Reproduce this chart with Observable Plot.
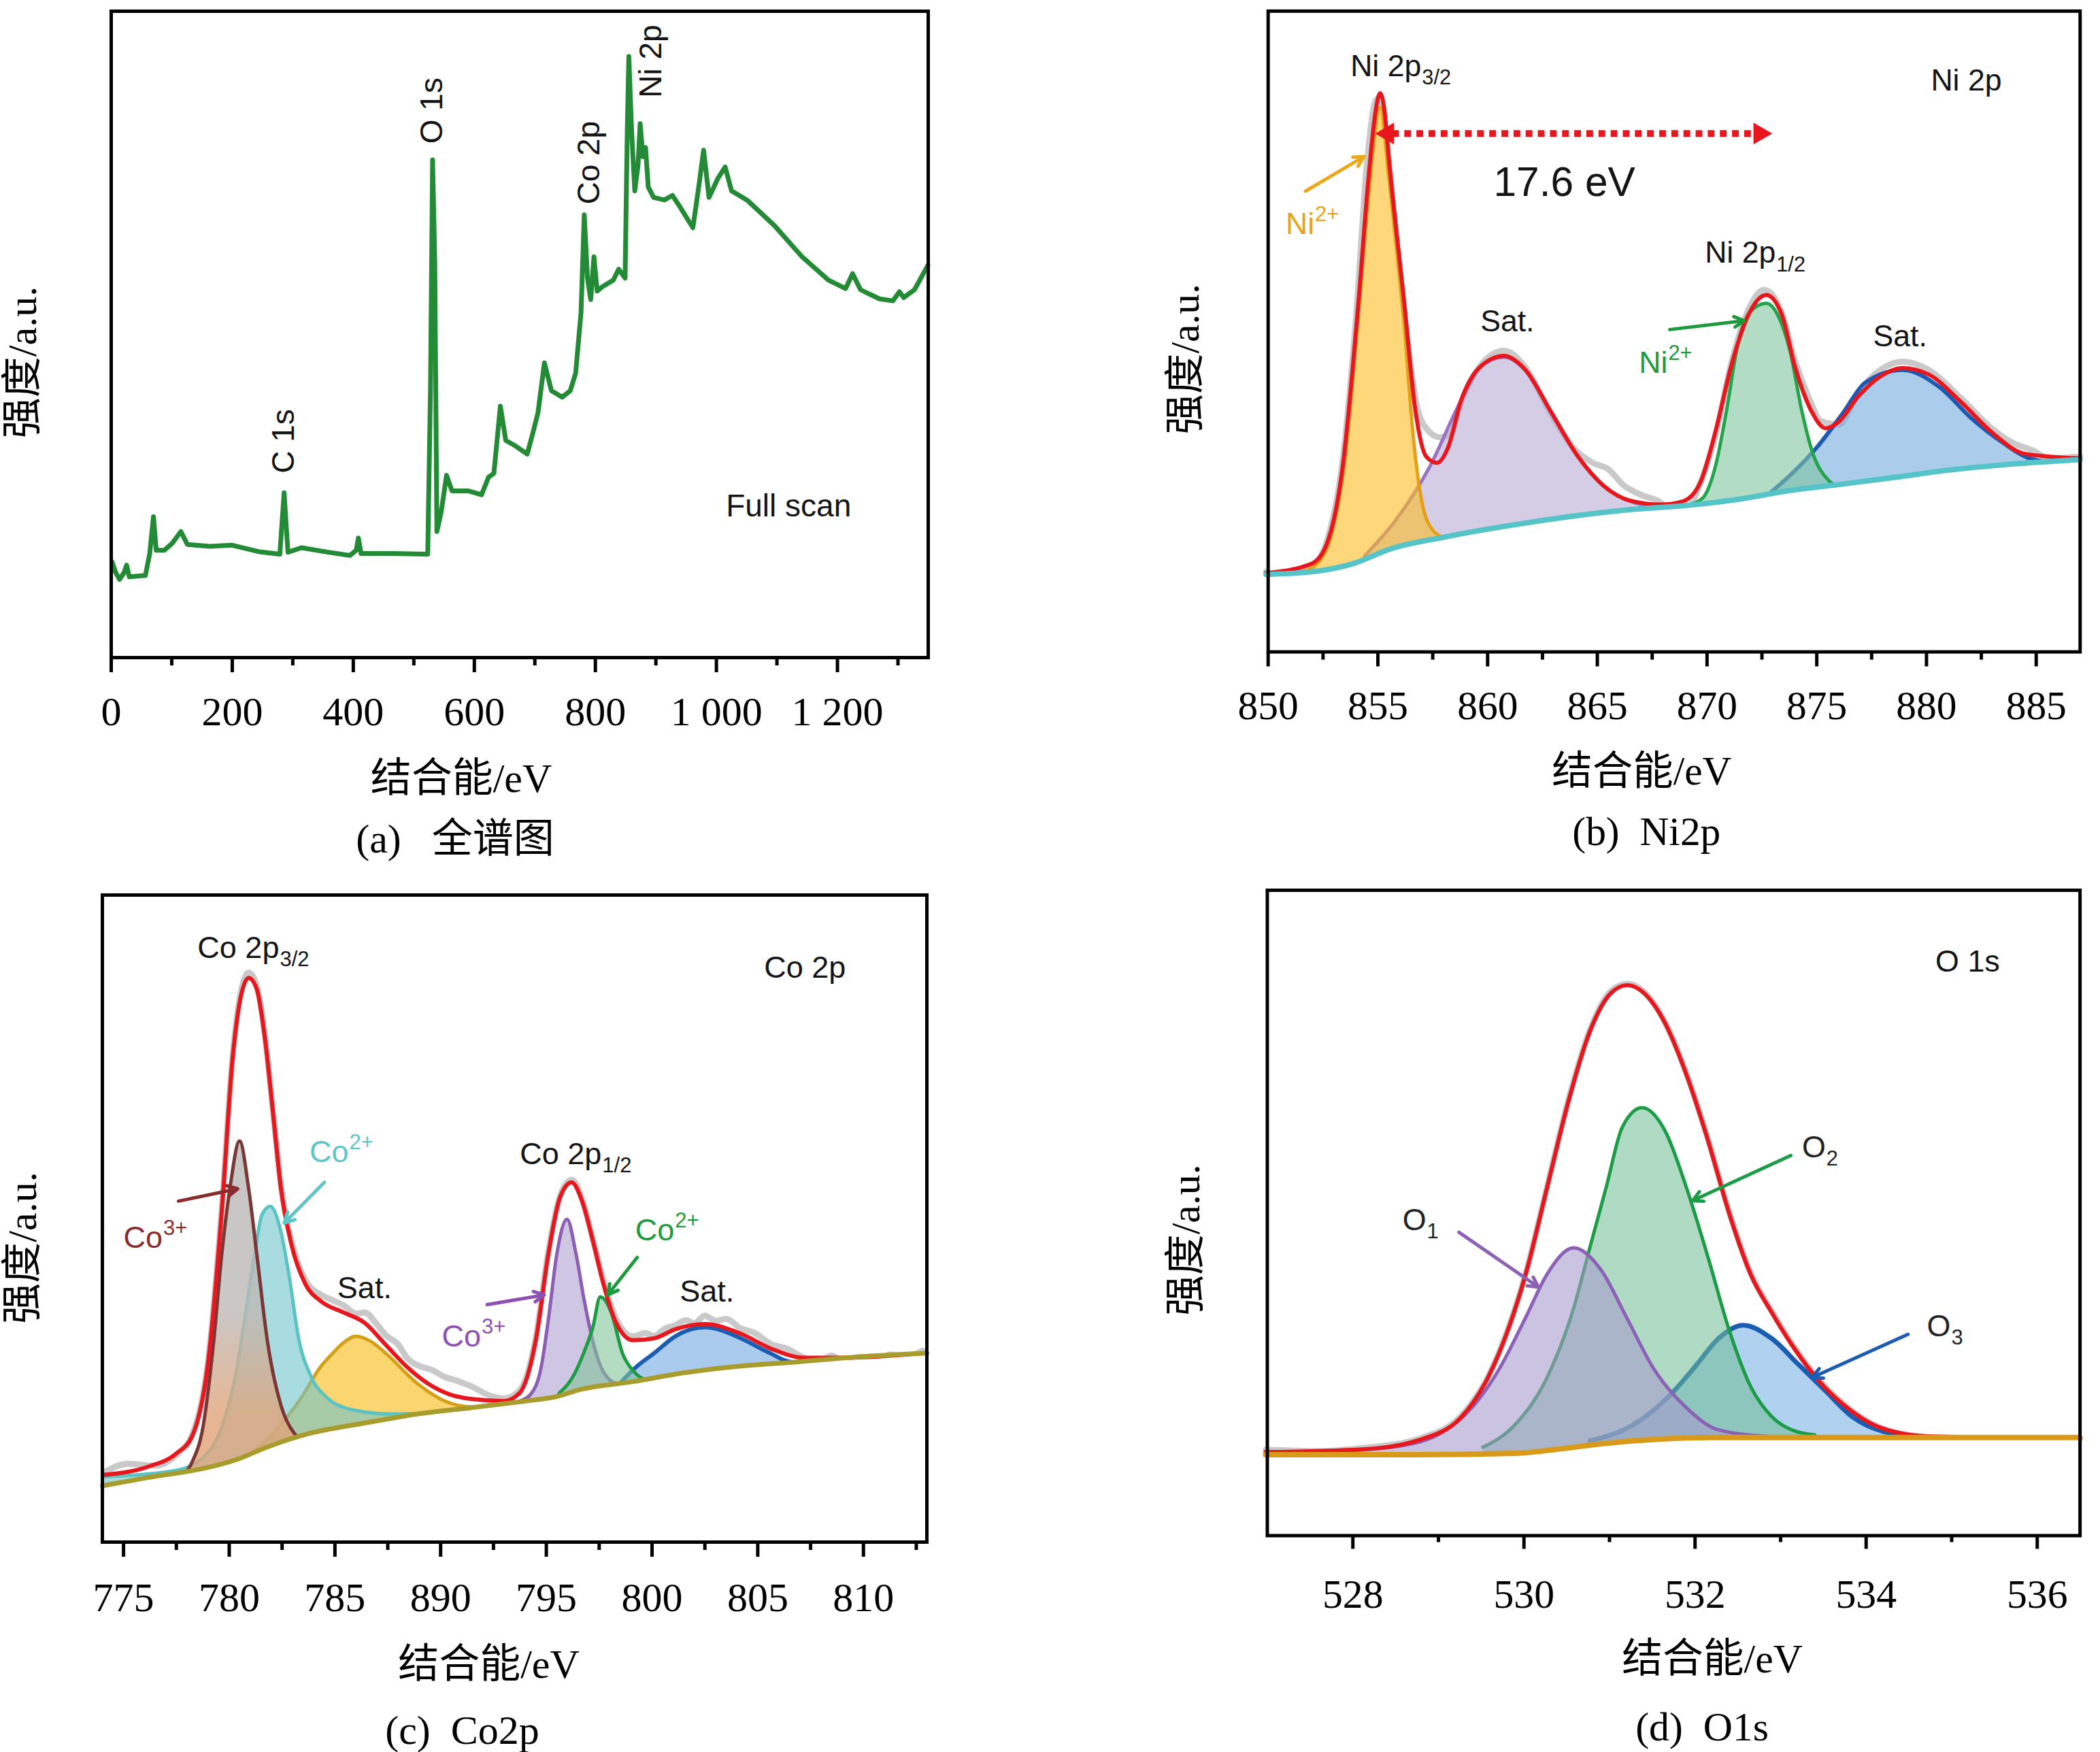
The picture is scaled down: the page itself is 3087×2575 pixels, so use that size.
<!DOCTYPE html>
<html>
<head>
<meta charset="utf-8">
<script src="https://cdn.jsdelivr.net/npm/d3@7"></script>
<script src="https://cdn.jsdelivr.net/npm/@observablehq/plot@0.6"></script>
<style>
html, body { margin: 0; padding: 0; background: #fff; }
#page { position: relative; width: 3087px; height: 2575px; background: #fff; overflow: hidden; }
</style>
</head>
<body>
<svg width="0" height="0" style="position:absolute">
  <defs>
    <linearGradient id="co3grad" x1="0" y1="0" x2="0" y2="1">
      <stop offset="0" stop-color="#b8b8b8"/>
      <stop offset="0.42" stop-color="#bdb9b6"/>
      <stop offset="0.68" stop-color="#e0a479"/>
      <stop offset="1" stop-color="#e0a479"/>
    </linearGradient>
  </defs>
</svg>
<div id="page"></div>
<script>
// ---------------- DATA (binding energy eV, intensity a.u. 0-100 of frame) ----------------
// (a) survey
const survey = [[1.4,14.8],[7.6,13.1],[13.8,12.1],[20.9,13.1],[25.4,14.3],[29.8,12.5],[56.5,12.7],[63.6,16.1],[69.8,21.8],[74.3,16.6],[87.6,16.6],[100.9,17.7],[115.1,19.5],[125.8,17.5],[163.1,17.2],[198.7,17.4],[243.1,16.4],[278.6,16.0],[285.7,25.5],[292.0,16.3],[314.2,17.0],[358.6,16.3],[394.2,15.8],[404.8,16.6],[408.4,18.5],[412.8,16.1],[465.3,16.1],[523.0,16.0],[527.5,41.3],[531.0,77.0],[534.6,61.4],[538.1,19.5],[545.2,22.5],[554.1,28.2],[563.0,25.8],[589.7,25.8],[611.9,25.2],[623.4,27.9],[632.3,28.5],[643.0,38.9],[651.9,33.6],[665.2,32.9],[687.4,31.5],[696.3,34.6],[705.2,37.9],[715.8,45.6],[727.4,41.3],[745.2,40.3],[758.5,41.3],[767.4,44.0],[776.3,53.4],[781.6,68.5],[787.0,58.7],[792.3,55.4],[797.6,62.0],[803.0,56.7],[811.8,57.4],[829.6,58.4],[838.5,60.1],[849.1,58.7],[852.7,81.6],[855.3,93.0],[859.8,81.6],[865.1,72.2],[870.5,76.2],[874.0,82.6],[878.5,77.5],[882.9,78.9],[887.4,72.8],[896.2,71.2],[914.0,70.8],[927.3,71.5],[940.7,69.6],[961.1,66.5],[971.8,73.5],[978.8,78.5],[987.8,71.2],[1002.8,74.2],[1014.4,75.9],[1025.1,72.2],[1051.7,70.7],[1096.2,66.8],[1140.6,62.1],[1185.0,58.4],[1213.5,57.1],[1225.0,59.4],[1238.3,56.9],[1269.5,55.5],[1291.7,55.2],[1302.4,56.6],[1309.4,55.7],[1327.2,56.9],[1349.4,60.7]];
const surveyPeakLabels = [
  {x: 285.7, y: 28.5, t: "C 1s"},
  {x: 530.1, y: 79.5, t: "O 1s"},
  {x: 789.6, y: 70.1, t: "Co 2p"},
  {x: 891.7, y: 86.6, t: "Ni 2p"}
];
const surveyTitle = [{x: 1015.8, y: 21.8, t: "Full scan"}];
const surveyTicks = [0, 200, 400, 600, 800, 1000, 1200];
const surveyTickLabels = ["0", "200", "400", "600", "800", "1 000", "1 200"];
const surveyMinor = [100, 300, 500, 700, 900, 1100, 1300];

// (b) Ni 2p
const niBg = [[849.9,12.1],[852.0,12.5],[853.9,13.8],[855.6,16.1],[858.0,17.9],[861.7,20.1],[866.5,22.2],[868.9,22.8],[871.4,23.8],[873.8,25.2],[876.2,26.2],[878.7,27.3],[881.1,28.4],[883.5,29.2],[887.0,30.0]];
const niP32 = [[851.6,12.6],[852.3,14.0],[852.9,18.5],[853.5,30.0],[854.1,52.0],[854.6,72.0],[855.1,85.0],[855.5,74.0],[856.2,51.0],[856.6,34.0],[857.0,23.5],[857.5,19.0],[858.0,17.9]];
const niSat1 = [[854.4,15.0],[855.8,20.5],[857.3,28.5],[858.8,39.3],[859.7,44.6],[860.75,46.0],[861.7,44.0],[862.9,37.3],[864.1,30.5],[865.3,25.8],[866.5,23.5],[867.7,22.6],[868.9,22.5],[870.0,23.3]];
const niP12 = [[869.2,23.0],[869.8,24.0],[870.4,29.2],[870.9,37.9],[871.4,48.0],[872.0,53.2],[872.7,54.4],[873.3,52.0],[873.8,46.7],[874.3,37.9],[874.8,31.2],[875.5,26.9],[876.0,25.9],[876.6,26.3]];
const niSat2 = [[872.8,24.6],[873.8,27.6],[875.0,31.9],[876.2,37.3],[877.2,42.0],[878.9,44.0],[880.6,41.3],[882.0,36.6],[883.5,32.6],[884.7,30.2],[885.9,29.6],[887.0,30.0]];
const niEnv = [[849.9,12.3],[852.0,13.8],[852.7,17.1],[853.4,29.0],[854.1,54.0],[854.6,75.0],[854.9,84.5],[855.1,87.2],[855.3,84.5],[855.5,77.0],[856.2,54.5],[856.7,37.9],[857.2,30.5],[857.7,29.5],[858.2,31.9],[858.8,39.3],[859.7,44.6],[860.75,46.2],[861.7,44.1],[862.9,37.4],[864.1,30.6],[865.3,25.9],[866.5,23.6],[867.9,23.0],[868.9,23.5],[869.7,26.5],[870.4,34.6],[871.1,44.6],[871.9,52.7],[872.7,55.7],[873.4,52.7],[874.0,44.6],[874.8,37.3],[875.4,34.9],[876.0,35.9],[876.9,39.9],[877.9,43.0],[878.9,44.3],[880.1,43.3],[881.6,38.9],[883.0,34.2],[884.5,30.9],[887.0,30.2]];
const niRaw = [[849.9,12.5],[850.5,12.0],[851.2,12.6],[852.0,13.5],[852.7,17.5],[853.4,30.0],[854.0,52.0],[854.5,76.0],[854.9,86.0],[855.1,86.5],[855.4,80.0],[855.8,66.0],[856.3,50.0],[856.8,38.0],[857.3,34.5],[857.8,33.5],[858.3,34.0],[858.8,39.0],[859.7,44.8],[860.75,47.0],[861.7,44.5],[862.9,37.0],[864.0,31.5],[864.8,29.5],[865.5,28.5],[866.2,26.0],[867.0,24.5],[867.8,23.5],[868.4,22.0],[869.0,21.6],[869.6,25.5],[870.4,34.0],[871.1,45.0],[871.9,53.5],[872.6,56.5],[873.4,53.0],[874.0,45.5],[874.6,40.0],[875.2,36.0],[876.0,35.5],[876.9,40.5],[877.9,44.0],[878.9,45.3],[880.1,44.0],[881.6,39.5],[883.0,34.8],[884.0,32.5],[884.8,31.5],[885.6,30.2],[887.0,30.5]];
const niSplit = {from: 855.1, to: 872.7, level: 80.9, text: "17.6 eV", tx: 863.5, ty: 71.2};
const niPeakLabels = [
  {x: 853.75, y: 89.8, t: "Ni 2p", s: "3/2", k: "sub"},
  {x: 869.9, y: 60.7, t: "Ni 2p", s: "1/2", k: "sub"},
  {x: 880.2, y: 87.6, t: "Ni 2p"}
];
const niSatLabels = [{x: 860.9, y: 50.0, t: "Sat."}, {x: 878.8, y: 47.7, t: "Sat."}];
const niIonLabels = [
  {x: 850.8, y: 65.2, t: "Ni", s: "2+", k: "sup"},
  {x: 866.9, y: 43.6, t: "Ni", s: "2+", k: "sup"}
];
const niIonArrows = [
  {x1: 851.7, y1: 71.9, x2: 854.37, y2: 77.3},
  {x1: 868.3, y1: 50.3, x2: 871.7, y2: 51.7}
];
const niTicks = [850, 855, 860, 865, 870, 875, 880, 885];
const niTickLabels = ["850", "855", "860", "865", "870", "875", "880", "885"];
const niMinor = [852.5, 857.5, 862.5, 867.5, 872.5, 877.5, 882.5];

// (c) Co 2p
const coBg = [[774.0,8.7],[776.2,10.0],[778.8,11.4],[780.3,12.7],[781.8,14.7],[783.8,16.8],[786.4,18.4],[788.9,19.8],[791.5,20.8],[794.0,21.8],[795.5,22.5],[796.5,23.5],[799.1,24.8],[801.6,26.2],[804.2,27.2],[806.7,27.8],[809.2,28.5],[813.0,29.2]];
const coCo3 = [[777.75,10.1],[778.25,12.4],[778.76,17.8],[779.27,31.2],[779.65,44.6],[780.03,54.6],[780.49,62.0],[780.92,54.6],[781.3,44.6],[781.8,31.2],[782.45,21.1],[783.08,16.8],[783.6,15.7],[784.2,16.2]];
const coCo2 = [[774.0,10.1],[777.5,11.1],[778.76,13.1],[779.65,17.8],[780.3,25.8],[780.8,35.9],[781.2,44.6],[781.55,50.6],[781.94,51.9],[782.45,47.9],[782.83,41.2],[783.3,31.2],[783.84,25.8],[784.6,22.4],[785.9,20.4],[787.65,19.8],[790.2,20.1],[792.0,20.8]];
const coSat1 = [[780.0,11.7],[781.3,14.4],[782.4,18.0],[783.3,21.8],[784.35,27.2],[784.9,29.2],[785.4,30.8],[786.0,31.8],[786.7,31.0],[787.4,29.2],[788.9,24.5],[790.2,21.8],[791.5,20.9],[793.0,21.2]];
const coCo3b = [[793.2,21.3],[793.75,21.8],[794.25,22.8],[794.76,27.1],[795.1,34.5],[795.5,44.6],[795.98,49.9],[796.4,44.6],[796.8,37.2],[797.3,29.8],[797.8,25.8],[798.4,24.5],[799.0,24.7]];
const coCo2b = [[795.6,23.0],[796.3,25.8],[796.8,29.5],[797.2,33.2],[797.55,37.9],[798.1,35.2],[798.6,29.2],[799.1,26.5],[799.8,25.1],[800.6,25.3]];
const coSat2 = [[798.5,24.6],[799.3,27.2],[800.1,29.2],[801.1,31.8],[802.5,33.2],[804.2,31.5],[805.4,29.5],[806.7,27.8],[807.5,28.0]];
const coEnv = [[774.1,10.4],[776.2,11.7],[777.5,13.7],[778.25,16.4],[779.0,27.8],[779.65,51.3],[780.16,74.8],[780.54,84.2],[780.92,87.2],[781.3,85.5],[781.68,78.1],[782.06,66.7],[782.45,54.6],[782.95,45.9],[783.6,39.9],[784.35,37.2],[785.4,35.5],[786.4,33.9],[787.4,30.5],[788.4,27.1],[789.4,24.5],[790.45,22.8],[791.5,22.1],[793.0,21.8],[793.75,23.1],[794.5,31.2],[795.1,44.6],[795.65,53.3],[796.2,55.6],[796.7,52.6],[797.2,46.6],[797.7,39.9],[798.3,33.9],[799.1,31.2],[800.1,31.5],[801.1,32.9],[802.5,33.7],[804.2,32.2],[805.7,29.8],[807.2,28.5],[809.2,28.5],[812.8,29.2]];
const coRaw = [[774.1,10.8],[775.2,12.1],[776.5,11.8],[777.5,13.5],[778.25,16.6],[779.0,28.0],[779.65,51.5],[780.16,75.0],[780.54,84.8],[780.92,88.0],[781.3,86.0],[781.68,78.5],[782.06,67.0],[782.45,55.0],[782.95,46.5],[783.6,40.5],[784.35,38.2],[784.8,37.5],[785.4,36.6],[786.0,35.3],[786.4,35.5],[787.0,33.6],[787.4,32.0],[788.0,30.5],[788.4,28.5],[789.0,27.2],[789.6,26.6],[790.2,25.5],[790.8,24.9],[791.5,24.0],[792.2,22.8],[793.0,22.2],[793.75,23.5],[794.5,31.5],[795.1,45.0],[795.65,53.5],[796.2,56.0],[796.7,53.0],[797.2,46.8],[797.7,40.5],[798.3,34.5],[799.1,31.8],[799.7,32.3],[800.1,31.8],[800.6,33.0],[801.1,33.5],[801.6,34.3],[802.0,33.8],[802.5,35.0],[803.0,34.2],[803.5,34.5],[804.2,33.0],[804.8,32.4],[805.7,30.5],[806.3,30.0],[807.2,28.5],[807.8,27.8],[808.5,28.8],[809.2,27.6],[809.8,28.6],[810.5,28.0],[811.3,29.0],[812.0,28.6],[812.8,29.6]];
const coPeakLabels = [
  {x: 778.5, y: 90.3, t: "Co 2p", s: "3/2", k: "sub"},
  {x: 793.75, y: 58.4, t: "Co 2p", s: "1/2", k: "sub"},
  {x: 805.3, y: 87.2, t: "Co 2p"}
];
const coSatLabels = [{x: 786.4, y: 37.7, t: "Sat."}, {x: 802.6, y: 37.2, t: "Sat."}];
const coIonLabels = [
  {x: 783.8, y: 58.7, t: "Co", s: "2+", k: "sup"},
  {x: 775.0, y: 45.5, t: "Co", s: "3+", k: "sup"},
  {x: 790.06, y: 30.2, t: "Co", s: "3+", k: "sup"},
  {x: 799.2, y: 46.6, t: "Co", s: "2+", k: "sup"}
];
const coIonArrows = [
  {x1: 784.5, y1: 55.6, x2: 782.6, y2: 49.3},
  {x1: 777.6, y1: 52.7, x2: 780.4, y2: 54.6},
  {x1: 792.2, y1: 36.7, x2: 794.9, y2: 38.2},
  {x1: 799.3, y1: 44.0, x2: 797.9, y2: 38.2}
];
const coTicks = [775, 780, 785, 790, 795, 800, 805, 810];
const coTickLabels = ["775", "780", "785", "890", "795", "800", "805", "810"];
const coMinor = [777.5, 782.5, 787.5, 792.5, 797.5, 802.5, 807.5, 812.5];

// (d) O 1s
const oBg = [[526.98,12.55],[528.77,12.55],[529.9,12.75],[530.4,13.4],[530.96,14.3],[531.6,14.96],[532.2,15.2],[533.15,15.2],[534.4,15.2],[536.5,15.2]];
const oO1 = [[527.5,12.9],[528.45,13.7],[529.02,15.8],[529.39,19.8],[529.71,25.8],[530.02,33.8],[530.27,40.5],[530.58,44.6],[530.9,41.2],[531.2,33.8],[531.52,25.8],[531.9,19.8],[532.27,16.4],[532.84,15.4]];
const oO2 = [[529.52,13.7],[529.89,17.1],[530.27,24.5],[530.58,35.2],[530.77,44.6],[530.96,53.9],[531.15,63.3],[531.38,66.3],[531.65,62.7],[531.9,53.9],[532.15,43.2],[532.4,31.8],[532.65,23.1],[532.9,18.4],[533.15,16.3],[533.4,15.6]];
const oO3 = [[530.77,14.7],[531.27,17.1],[531.71,21.8],[532.02,26.5],[532.27,30.5],[532.56,32.6],[532.9,30.5],[533.21,26.5],[533.52,22.5],[533.84,18.4],[534.21,16.1],[534.71,15.2]];
const oEnv = [[526.98,12.95],[528.14,13.4],[528.77,14.8],[529.27,18.4],[529.58,24.5],[529.83,32.5],[530.02,40.5],[530.27,53.9],[530.52,67.3],[530.77,78.1],[531.02,84.1],[531.21,85.3],[531.4,84.1],[531.65,79.4],[531.9,71.4],[532.15,61.3],[532.4,49.9],[532.65,40.5],[532.9,34.5],[533.15,29.2],[533.46,23.8],[533.78,19.8],[534.15,16.8],[534.71,15.4],[535.65,15.2],[536.5,15.2]];
const oRaw = [[526.98,13.3],[527.6,13.1],[528.14,13.6],[528.77,15.0],[529.27,18.6],[529.58,24.6],[529.83,32.6],[530.02,40.6],[530.27,54.0],[530.52,67.5],[530.77,78.3],[531.02,84.4],[531.21,85.5],[531.4,84.3],[531.65,79.5],[531.9,71.6],[532.15,61.5],[532.4,50.1],[532.65,40.7],[532.9,34.7],[533.15,29.4],[533.46,24.0],[533.78,19.9],[534.15,16.8],[534.71,15.2],[535.1,14.6],[535.5,14.2],[535.9,14.3],[536.2,14.7],[536.5,15.0]];
const oTitle = [{x: 534.81, y: 87.4, t: "O 1s"}];
const oLabels = [
  {x: 528.58, y: 47.3, t: "O", s: "1", k: "sub"},
  {x: 533.25, y: 58.6, t: "O", s: "2", k: "sub"},
  {x: 534.71, y: 30.9, t: "O", s: "3", k: "sub"}
];
const oArrows = [
  {x1: 529.24, y1: 47.0, x2: 530.17, y2: 38.5},
  {x1: 533.12, y1: 58.9, x2: 531.97, y2: 51.9},
  {x1: 534.49, y1: 31.2, x2: 533.37, y2: 24.5}
];
const oTicks = [528, 530, 532, 534, 536];
const oTickLabels = ["528", "530", "532", "534", "536"];
const oMinor = [529, 531, 533, 535];

const yTitle = "强度/a.u.";
const xTitle = "结合能/eV";
const captions = ["(a)\u00A0\u00A0\u00A0全谱图", "(b)\u00A0\u00A0Ni2p", "(c)\u00A0\u00A0Co2p", "(d)\u00A0\u00A0O1s"];

// ---------------- helpers ----------------
const SANS = "'Liberation Sans', Arial, Helvetica, sans-serif";
const SERIF = "'Liberation Serif', 'Times New Roman', 'Noto Sans CJK SC', serif";
const pts = a => a.map(([x, y]) => ({x, y}));
const ctx2d = document.createElement("canvas").getContext("2d");
function textWidth(s, size, family) { ctx2d.font = `${size}px ${family}`; return ctx2d.measureText(s).width; }

function label(d, color = "#141414", fs = 45, anchor = "start") {
  const m = [Plot.text([d], {x: "x", y: "y", text: "t", textAnchor: anchor, lineAnchor: "bottom", fontSize: fs, fontFamily: SANS, fill: color})];
  if (d.s) {
    const w = textWidth(d.t, fs, SANS);
    m.push(Plot.text([d], {x: "x", y: "y", text: "s", textAnchor: "start", lineAnchor: "bottom",
      fontSize: Math.round(fs * 0.68), fontFamily: SANS, fill: color,
      dx: w + 1, dy: d.k === "sup" ? -0.42 * fs : 0.27 * fs}));
  }
  return m;
}
function arrow(a, color) {
  return Plot.arrow([a], {x1: "x1", y1: "y1", x2: "x2", y2: "y2", stroke: color, strokeWidth: 5, headLength: 5, headAngle: 55});
}
const fillArea = (data, color, op = 0.6) => Plot.areaY(pts(data), {x: "x", y: "y", fill: color, fillOpacity: op, curve: "monotone-x"});
const curve = (data, color, w = 5) => Plot.line(pts(data), {x: "x", y: "y", stroke: color, strokeWidth: w, curve: "monotone-x", strokeLinejoin: "round", strokeLinecap: "round"});
const cover = data => Plot.areaY(pts(data), {x: "x", y: "y", fill: "white", curve: "monotone-x"});
// one fitted component: translucent fill, then its outline (later components veil earlier outlines)
const component = (data, fillColor, lineColor, op = 0.6, w = 5) => [fillArea(data, fillColor, op), curve(data, lineColor, w)];

const page = document.getElementById("page");

function panel(cfg) {
  const mL = 150, mR = 30, mT = 16, mB = 320;
  const width = mL + (cfg.frameR - cfg.frameL) + mR;
  const height = mT + (cfg.frameB - cfg.frameT) + mB;
  const fmt = new Map(cfg.majors.map((v, i) => [v, cfg.majorLabels[i]]));
  const svg = Plot.plot({
    width, height,
    marginLeft: mL, marginRight: mR, marginTop: mT, marginBottom: mB,
    x: {domain: cfg.domain, label: null},
    y: {domain: [0, 100], axis: null, label: null},
    style: {background: "transparent", fontFamily: SERIF, color: "#000", overflow: "visible"},
    marks: [
      ...cfg.marks,
      Plot.axisX({ticks: cfg.minors, tickSize: cfg.minorSize, strokeWidth: 5, stroke: "#000", fill: "none", label: null}),
      Plot.axisX({ticks: cfg.majors, tickSize: cfg.tickSize, tickPadding: cfg.tickPadding, strokeWidth: 5, stroke: "#000", fill: "#000",
        fontSize: 60, fontFamily: SERIF, tickFormat: d => fmt.get(d), label: null}),
      Plot.frame({stroke: "#000", strokeWidth: 5}),
      Plot.text([yTitle], {text: d => d, frameAnchor: "left", dx: cfg.yDx, dy: cfg.yDy, rotate: -90, textAnchor: "middle", lineAnchor: "middle", fontSize: 60, fontFamily: SERIF, fill: "#000"}),
      Plot.text([xTitle], {text: d => d, frameAnchor: "bottom", dx: cfg.xDx, dy: cfg.xDy, textAnchor: "middle", lineAnchor: "bottom", fontSize: 60, fontFamily: SERIF, fill: "#000"}),
      Plot.text([cfg.caption], {text: d => d, frameAnchor: "bottom", dx: cfg.cDx, dy: cfg.cDy, textAnchor: "middle", lineAnchor: "bottom", fontSize: 60, fontFamily: SERIF, fill: "#000"})
    ]
  });
  const wrap = document.createElement("div");
  wrap.style.cssText = `position:absolute;left:${cfg.frameL - mL}px;top:${cfg.frameT - mT}px;`;
  wrap.appendChild(svg);
  page.appendChild(wrap);
}

// ---------------- (a) ----------------
panel({
  frameL: 163, frameR: 1364, frameT: 16, frameB: 966, domain: [0, 1350],
  majors: surveyTicks, majorLabels: surveyTickLabels, minors: surveyMinor,
  tickSize: 22, minorSize: 12, tickPadding: 35,
  yDx: -130, yDy: 41, xDx: -86, xDy: 197, cDx: -95, cDy: 286, caption: captions[0],
  marks: [
    Plot.line(pts(survey), {x: "x", y: "y", stroke: "#238b35", strokeWidth: 7, strokeLinejoin: "round"}),
    Plot.text(surveyPeakLabels, {x: "x", y: "y", text: "t", rotate: -90, textAnchor: "start", fontSize: 46, fontFamily: SANS, fill: "#141414"}),
    ...label(surveyTitle[0], "#141414", 46)
  ]
});

// ---------------- (b) ----------------
const RED = "#e8161d";
panel({
  frameL: 1865, frameR: 3069, frameT: 16, frameB: 966, domain: [850, 887],
  majors: niTicks, majorLabels: niTickLabels, minors: niMinor,
  tickSize: 22, minorSize: 12, tickPadding: 35,
  yDx: -122, yDy: 41, xDx: -48, xDy: 197, cDx: -41, cDy: 286, caption: captions[1],
  marks: [
    curve(niRaw, "#c9c9c9", 9),
    ...component(niSat1, "#b9acd5", "#9b72c2"),
    ...component(niP32, "#fcbc21", "#e3a018"),
    ...component(niSat2, "#73acde", "#1d5bb3", 0.6, 6),
    ...component(niP12, "#80c59e", "#22a44c"),
    cover(niBg),
    curve(niEnv, RED, 6),
    curve(niBg, "#55c4c9", 8),
    Plot.link([niSplit], {x1: d => d.from + 0.55, x2: d => d.to - 0.45, y1: "level", y2: "level", stroke: RED, strokeWidth: 10, strokeDasharray: "10,8"}),
    Plot.dot([niSplit], {x: d => d.from + 0.35, y: "level", symbol: "triangle", r: 12, fill: RED, stroke: "none", rotate: -90}),
    Plot.dot([niSplit], {x: d => d.to - 0.3, y: "level", symbol: "triangle", r: 12, fill: RED, stroke: "none", rotate: 90}),
    Plot.text([niSplit], {x: "tx", y: "ty", text: "text", textAnchor: "middle", lineAnchor: "bottom", fontSize: 61, fontFamily: SANS, fill: "#141414"}),
    ...niPeakLabels.flatMap(d => label(d)),
    ...niSatLabels.flatMap(d => label(d, "#141414", 45, "middle")),
    ...label(niIonLabels[0], "#e8a418"),
    ...label(niIonLabels[1], "#1d9a3e"),
    arrow(niIonArrows[0], "#eaa81c"),
    arrow(niIonArrows[1], "#1d9a3e")
  ]
});

// ---------------- (c) ----------------
panel({
  frameL: 150, frameR: 1362, frameT: 1315, frameB: 2266, domain: [774, 813],
  majors: coTicks, majorLabels: coTickLabels, minors: coMinor,
  tickSize: 22, minorSize: 12, tickPadding: 37,
  yDx: -117, yDy: 43, xDx: -38, xDy: 199, cDx: -77, cDy: 296, caption: captions[2],
  marks: [
    curve(coRaw, "#c9c9c9", 9),
    ...component(coSat1, "#f8b90f", "#d4a017"),
    ...component(coCo2, "#70c5cb", "#5cc3c3"),
    ...component(coCo3, "url(#co3grad)", "#7b3636", 0.8),
    ...component(coSat2, "#71a9de", "#1b5db3", 0.6, 6),
    ...component(coCo3b, "#afa0d0", "#8c5fb3"),
    ...component(coCo2b, "#80c59a", "#1f9a45"),
    cover(coBg),
    curve(coEnv, RED, 6),
    curve(coBg, "#a89d2c", 7),
    ...coPeakLabels.flatMap(d => label(d)),
    ...coSatLabels.flatMap(d => label(d, "#141414", 45, "middle")),
    ...label(coIonLabels[0], "#5ec6c7"),
    ...label(coIonLabels[1], "#8b2c2c"),
    ...label(coIonLabels[2], "#8e50b4"),
    ...label(coIonLabels[3], "#1d9a3e"),
    arrow(coIonArrows[0], "#5ec6c7"),
    arrow(coIonArrows[1], "#8b2c2c"),
    arrow(coIonArrows[2], "#8e50b4"),
    arrow(coIonArrows[3], "#1d9a3e")
  ]
});

// ---------------- (d) ----------------
panel({
  frameL: 1863, frameR: 3062, frameT: 1308, frameB: 2260, domain: [527, 536.5],
  majors: oTicks, majorLabels: oTickLabels, minors: oMinor,
  tickSize: 20, minorSize: 10, tickPadding: 44,
  yDx: -120, yDy: 40, xDx: 57, xDy: 202, cDx: 42, cDy: 302, caption: captions[3],
  marks: [
    curve(oRaw, "#c9c9c9", 9),
    ...component(oO3, "#71ace3", "#1b5db3", 0.55, 7),
    ...component(oO2, "#6ebe94", "#1d9c48", 0.55),
    ...component(oO1, "#a79bcd", "#8b62b6", 0.6),
    cover(oBg),
    curve(oEnv, RED, 6),
    curve(oBg, "#d99a1a", 8),
    ...label(oTitle[0]),
    ...oLabels.flatMap(d => label(d, "#222")),
    arrow(oArrows[0], "#8b62b6"),
    arrow(oArrows[1], "#1d9c48"),
    arrow(oArrows[2], "#1b5db3")
  ]
});
</script>
</body>
</html>
